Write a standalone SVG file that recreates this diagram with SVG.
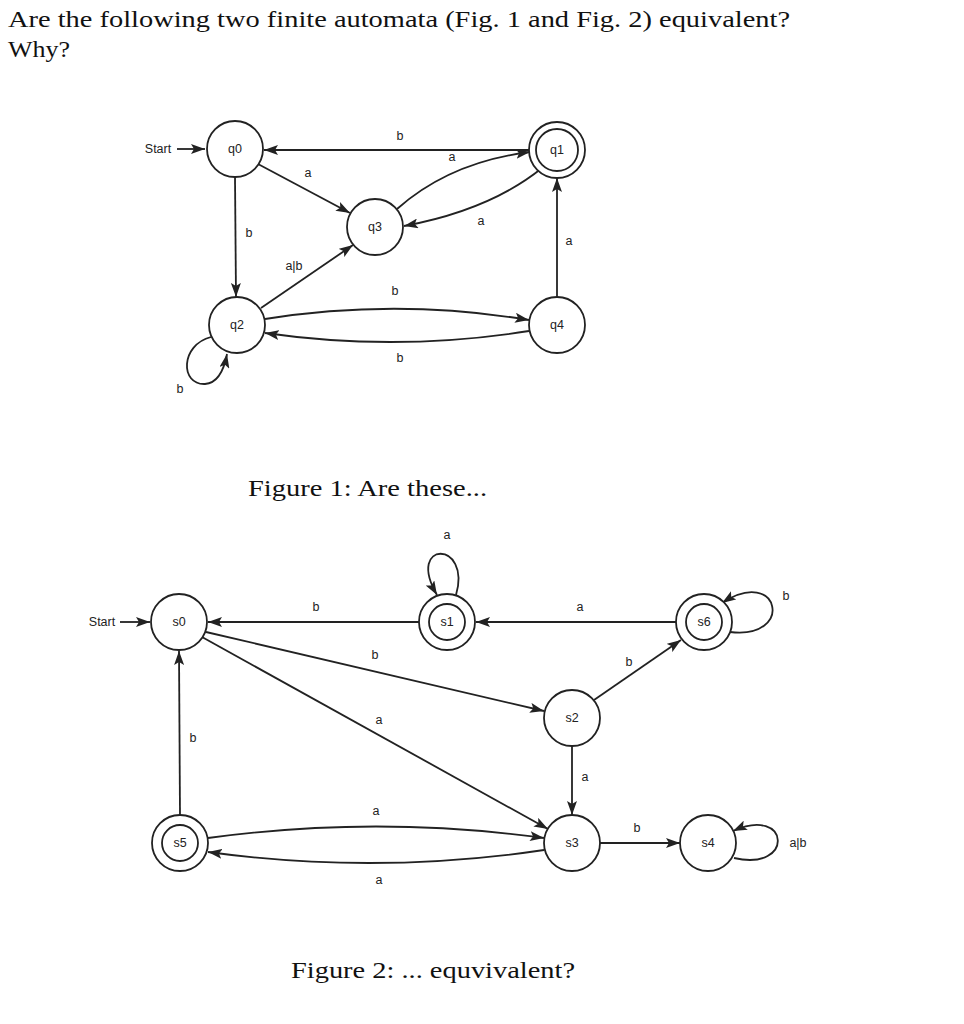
<svg xmlns="http://www.w3.org/2000/svg" width="964" height="1024" viewBox="0 0 964 1024">
<style>
.t{font-family:"Liberation Serif",serif;font-size:23px;fill:#111}
.n circle{fill:#fff;stroke:#222;stroke-width:1.8}
.n text,.l{font-family:"Liberation Sans",Arial,sans-serif;font-size:12.5px;fill:#222}
.n text{text-anchor:middle}
.l{text-anchor:middle}
.e path,.e line{fill:none;stroke:#222;stroke-width:1.8;marker-end:url(#ah)}
</style>
<defs>
<marker id="ah" viewBox="0 0 14 10" refX="14" refY="5" markerWidth="14" markerHeight="10" markerUnits="userSpaceOnUse" orient="auto">
<path d="M0,0 L14,5 L0,10 L3,5 z" fill="#222"/>
</marker>
</defs>
<rect width="964" height="1024" fill="#fff"/>
<text class="t" x="8" y="27" textLength="782" lengthAdjust="spacingAndGlyphs">Are the following two finite automata (Fig. 1 and Fig. 2) equivalent?</text>
<text class="t" x="8" y="57" textLength="62" lengthAdjust="spacingAndGlyphs">Why?</text>
<text class="t" x="248" y="496" textLength="239" lengthAdjust="spacingAndGlyphs">Figure 1: Are these...</text>
<text class="t" x="291" y="978" textLength="284" lengthAdjust="spacingAndGlyphs">Figure 2: ... equvivalent?</text>

<g class="e" id="edges1">
<line x1="177" y1="149" x2="205" y2="149"/>
<line x1="530" y1="150" x2="264" y2="150"/>
<path d="M397,209 Q450,162 530,152"/>
<path d="M542,168 Q490,210 404,226"/>
<line x1="258" y1="164" x2="350" y2="213"/>
<line x1="235" y1="177" x2="236" y2="297"/>
<line x1="261" y1="308" x2="353" y2="245"/>
<path d="M265,319 Q397,298 529,320"/>
<path d="M529,331 Q397,352 265,333"/>
<line x1="557" y1="297" x2="557" y2="178"/>
<path d="M211,337 C180,345 180,385 205,384 C218,383 224,370 227,354"/>
</g>
<g>
<text class="l" x="158" y="153">Start</text>
<text class="l" x="400" y="140">b</text>
<text class="l" x="452" y="161">a</text>
<text class="l" x="481" y="225">a</text>
<text class="l" x="308" y="177">a</text>
<text class="l" x="249" y="237">b</text>
<text class="l" x="294" y="270">a|b</text>
<text class="l" x="395" y="295">b</text>
<text class="l" x="400" y="362">b</text>
<text class="l" x="569" y="245">a</text>
<text class="l" x="180" y="393">b</text>
</g>
<g class="n" id="q0"><circle cx="235" cy="149" r="28"/><text x="235" y="153">q0</text></g>
<g class="n" id="q1"><circle cx="557" cy="150" r="28"/><circle cx="557" cy="150" r="21"/><text x="557" y="154">q1</text></g>
<g class="n" id="q3"><circle cx="375" cy="227" r="28"/><text x="375" y="231">q3</text></g>
<g class="n" id="q2"><circle cx="237" cy="325" r="28"/><text x="237" y="329">q2</text></g>
<g class="n" id="q4"><circle cx="557" cy="325" r="28"/><text x="557" y="329">q4</text></g>

<g class="e" id="edges2">
<line x1="120" y1="622" x2="150" y2="622"/>
<line x1="419" y1="622" x2="208" y2="622"/>
<line x1="676" y1="622" x2="476" y2="622"/>
<path d="M456,595 C472,540 405,540 437,595"/>
<path d="M730,632 C795,640 780,565 722,603"/>
<line x1="206" y1="632" x2="544" y2="711"/>
<line x1="202" y1="637" x2="548" y2="829"/>
<line x1="594" y1="700" x2="681" y2="640"/>
<line x1="572" y1="746" x2="572" y2="815"/>
<line x1="600" y1="843" x2="680" y2="843"/>
<path d="M734,858 C795,872 790,805 733,831"/>
<path d="M208,838 Q376,815 544,838"/>
<path d="M544,850 Q376,875 208,852"/>
<line x1="180" y1="815" x2="179" y2="651"/>
</g>
<g>
<text class="l" x="102" y="626">Start</text>
<text class="l" x="447" y="539">a</text>
<text class="l" x="316" y="611">b</text>
<text class="l" x="580" y="611">a</text>
<text class="l" x="786" y="600">b</text>
<text class="l" x="375" y="659">b</text>
<text class="l" x="379" y="724">a</text>
<text class="l" x="629" y="666">b</text>
<text class="l" x="585" y="781">a</text>
<text class="l" x="637" y="832">b</text>
<text class="l" x="798" y="847">a|b</text>
<text class="l" x="376" y="815">a</text>
<text class="l" x="379" y="884">a</text>
<text class="l" x="193" y="742">b</text>
</g>
<g class="n" id="s0"><circle cx="179" cy="622" r="28"/><text x="179" y="626">s0</text></g>
<g class="n" id="s1"><circle cx="447" cy="622" r="28"/><circle cx="447" cy="622" r="18"/><text x="447" y="626">s1</text></g>
<g class="n" id="s6"><circle cx="704" cy="622" r="28"/><circle cx="704" cy="622" r="18"/><text x="704" y="626">s6</text></g>
<g class="n" id="s2"><circle cx="572" cy="718" r="28"/><text x="572" y="722">s2</text></g>
<g class="n" id="s3"><circle cx="572" cy="843" r="28"/><text x="572" y="847">s3</text></g>
<g class="n" id="s4"><circle cx="708" cy="843" r="28"/><text x="708" y="847">s4</text></g>
<g class="n" id="s5"><circle cx="180" cy="843" r="28"/><circle cx="180" cy="843" r="18"/><text x="180" y="847">s5</text></g>
</svg>
